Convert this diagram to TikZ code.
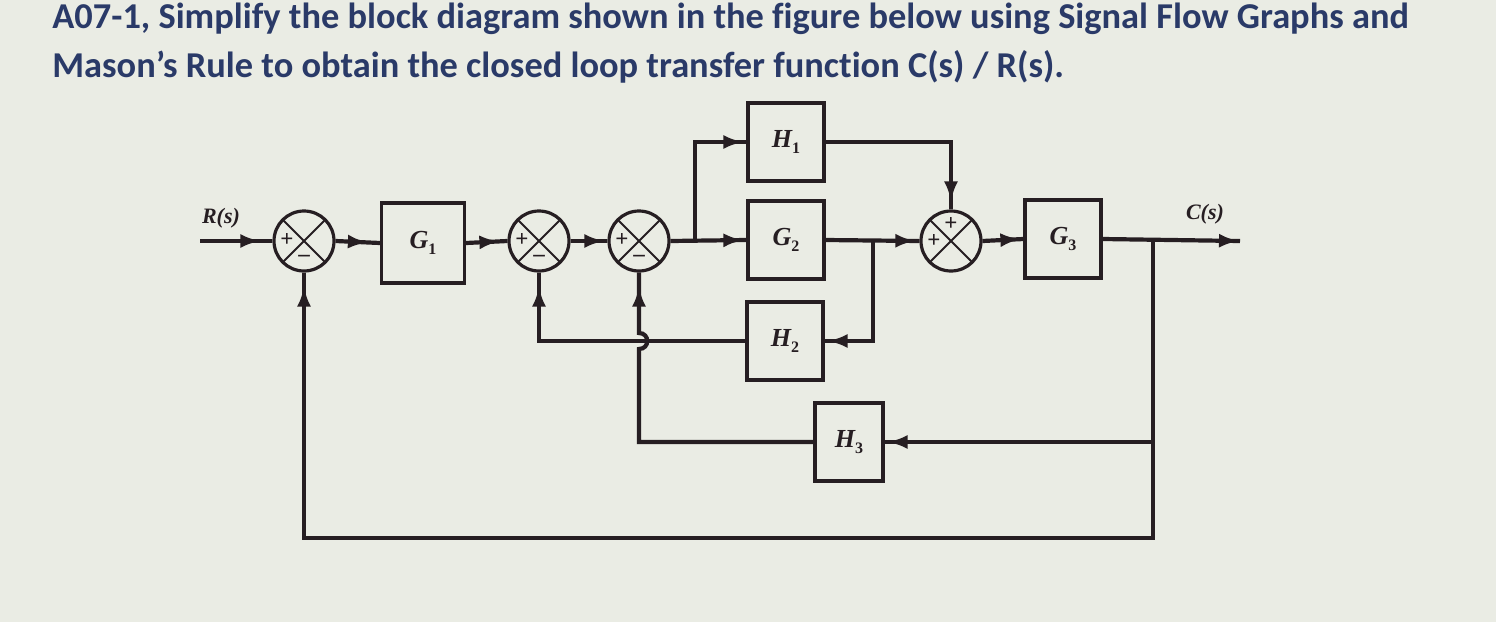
\documentclass[tikz,border=0pt]{standalone}
\usepackage{fontspec}
\setmainfont[Ligatures=NoCommon]{Carlito}
\newfontfamily\dfont{Liberation Serif}
\usetikzlibrary{arrows.meta,decorations.markings}
\definecolor{bg}{RGB}{234,236,228}
\definecolor{ttl}{RGB}{42,58,104}
\definecolor{ink}{RGB}{38,30,34}
\newcommand{\blk}[2]{{\dfont\bfseries\itshape #1}\raisebox{-0.45ex}{\dfont\bfseries\fontsize{8}{8}\selectfont #2}}
\begin{document}
\begin{tikzpicture}[x=0.5pt,y=-0.5pt,
  wire/.style={draw=ink,line width=2.1pt},
  arrowat/.style={postaction={decorate},decoration={markings,mark=at position #1 with {\arrow{Latex[length=10pt,width=7pt]}}}},
  arrowat/.default=-1pt,
  blockbox/.style={draw=ink,line width=1.6pt,minimum width=38pt,minimum height=39pt,inner sep=0pt,font=\fontsize{13}{13}\selectfont,text=ink},
  sumjn/.style={circle,draw=ink,line width=1.6pt,minimum size=30pt,inner sep=0pt,
    path picture={\draw[ink,line width=1pt] (path picture bounding box.north west)--(path picture bounding box.south east) (path picture bounding box.north east)--(path picture bounding box.south west);}},
  sgn/.style={font=\dfont\bfseries\fontsize{11.5}{11.5}\selectfont,text=ink,inner sep=0pt},
  sigl/.style={font=\dfont\bfseries\itshape\fontsize{11}{11}\selectfont,text=ink,inner sep=0pt}
]
\fill[bg] (0,0) rectangle (1496,622);
\useasboundingbox (0,0) rectangle (1496,622);

% title
\node[anchor=base west,text=ttl,font=\bfseries\fontsize{18.2}{20}\selectfont,inner sep=0pt] (t1) at (52,28) {A07-1, Simplify the block diagram shown in the figure below using Signal Flow Graphs and};
\node[anchor=base west,text=ttl,font=\bfseries\fontsize{18.2}{20}\selectfont,inner sep=0pt] (t2) at (52,77) {Mason’s Rule to obtain the closed loop transfer function C(s) / R(s).};

% blocks and junctions
\node[sumjn] (S1) at (304,241) {};
\node[blockbox,minimum width=41.5pt,minimum height=40pt] (G1) at (423,243) {\blk{G}{1}};
\node[sumjn] (S2) at (539,241) {};
\node[sumjn] (S3) at (639,241) {};
\node[blockbox] (H1) at (786,142) {\blk{H}{1}};
\node[blockbox] (G2) at (786,240) {\blk{G}{2}};
\node[blockbox] (H2) at (785,341) {\blk{H}{2}};
\node[sumjn] (S4) at (951,241) {};
\node[blockbox] (G3) at (1063,239) {\blk{G}{3}};
\node[blockbox,minimum width=34pt] (H3) at (849,442) {\blk{H}{3}};

% signs
\node[sgn] (S1p) at ([xshift=-8.5pt,yshift=0.5pt]S1.center) {+};
\node[sgn] (S1m) at ([yshift=-8.5pt]S1.center) {–};
\node[sgn] (S2p) at ([xshift=-8.5pt,yshift=0.5pt]S2.center) {+};
\node[sgn] (S2m) at ([yshift=-8.5pt]S2.center) {–};
\node[sgn] (S3p) at ([xshift=-8.5pt,yshift=0.5pt]S3.center) {+};
\node[sgn] (S3m) at ([yshift=-8.5pt]S3.center) {–};
\node[sgn] (S4p) at ([yshift=8.5pt]S4.center) {+};
\node[sgn] (S4q) at ([xshift=-8.5pt]S4.center) {+};

% signal labels
\node[sigl] (Rl) at (221,218) {R(s)};
\node[sigl] (Cl) at (1205,214) {C(s)};

% coordinates
\coordinate (rin) at (200,241);
\coordinate (b1) at (695,241);
\coordinate (b2) at (873,241);
\coordinate (b3) at (1153,241);
\coordinate (cout) at (1240,241);
\coordinate (hopb) at (639,349);
\coordinate (hopt) at (639,333);
\coordinate (bot) at (1153,538);

% connectors
\draw[wire,arrowat=-6pt] (rin) -- (S1.west);
\draw[wire,arrowat=-6pt] (S1.east) -- (G1.west);
\draw[wire,arrowat=-4pt] (G1.east) -- (S2.west);
\draw[wire,arrowat=-1.5pt] (S2.east) -- (S3.west);
\draw[wire,arrowat=-1.5pt] (S3.east) -- (G2.west);
\draw[wire,arrowat=-1.5pt] (b1) |- (H1.west);
\draw[wire,arrowat=-4pt] (H1.east) -| (S4.north);
\draw[wire,arrowat=-2pt] (G2.east) -- (S4.west);
\draw[wire,arrowat=-1.5pt] (b2) |- (H2.east);
\draw[wire,arrowat=-7pt] (H2.west) -| (S2.south);
\draw[wire,arrowat=-1.5pt] (S4.east) -- (G3.west);
\draw[wire,arrowat=-0.5pt] (G3.east) -- (cout);
\draw[wire,arrowat=-1.5pt] (b3) |- (H3.east);
\draw[wire,arrowat=-7pt] (H3.west) -- (H3.west -| hopb) -- (hopb) .. controls (650,349) and (650,333) .. (hopt) -- (S3.south);
\draw[wire,arrowat=-7pt] (b3) -- (bot) -| (S1.south);
\end{tikzpicture}
\end{document}
